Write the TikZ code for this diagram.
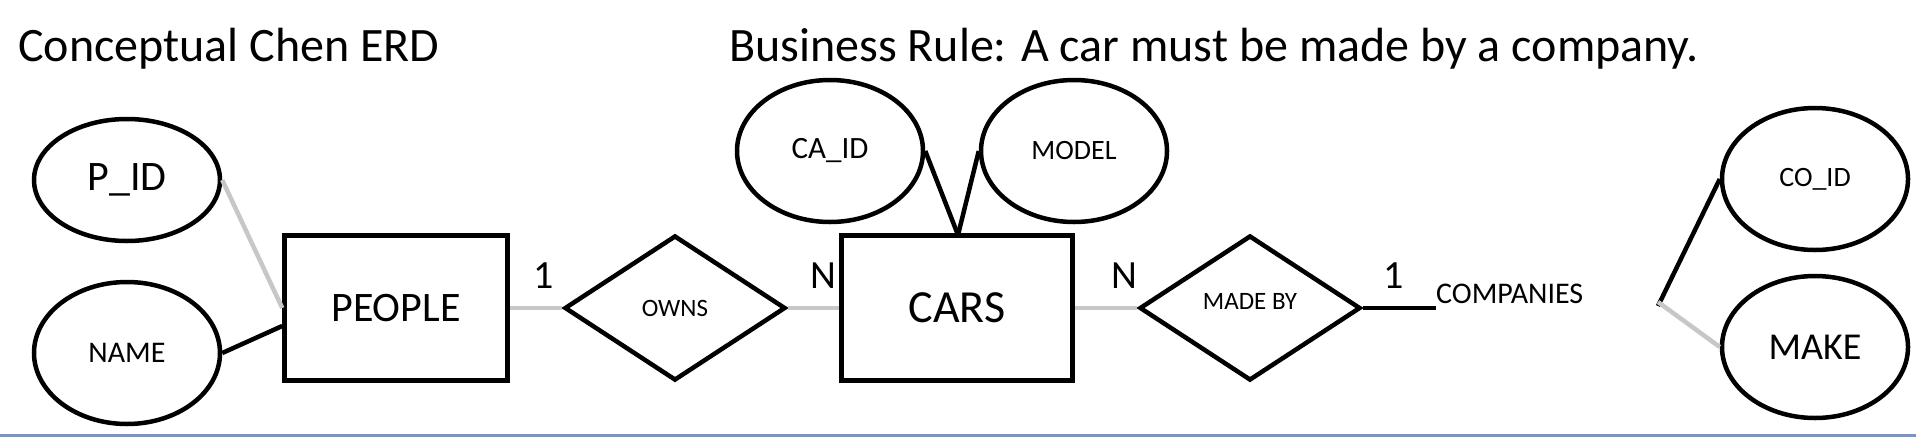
\documentclass[tikz,border=0pt]{standalone}
\usepackage{fontspec}
\setmainfont{Carlito}
\usetikzlibrary{shapes.geometric}
\begin{document}
\begin{tikzpicture}[x=1pt,y=-1pt,
  ln/.style={line width=4.5pt,black},
  gl/.style={line width=4.5pt,black!22},
  attr/.style={ellipse,draw,line width=4.5pt,minimum width=186pt,minimum height=142pt,inner sep=0pt},
  ent/.style={rectangle,draw,line width=4.5pt,minimum width=223pt,minimum height=145pt,inner sep=0pt},
  rel/.style={diamond,draw,line width=4.5pt,minimum width=221pt,minimum height=145pt,inner sep=0pt},
  card/.style={font=\fontsize{40}{42}\selectfont,inner sep=0pt}]
\useasboundingbox (0,0) rectangle (1916,437);
\draw[line width=3pt,color={rgb,255:red,120;green,150;blue,195}] (0,435) -- (1916,435);
\node[anchor=west,font=\fontsize{48}{52}\selectfont,inner sep=0pt] (t1) at (18,49) {Conceptual Chen ERD};
\node[anchor=west,font=\fontsize{48}{52}\selectfont,inner sep=0pt] (t2) at (729,49) {Business Rule: A car must be made by a company.};
\node[attr,minimum height=122pt,font=\fontsize{42}{44}\selectfont] (pid) at (127,180) {P\_ID};
\node[attr,font=\fontsize{30}{32}\selectfont] (name) at (127,353) {NAME};
\node[ent,font=\fontsize{42}{44}\selectfont] (people) at (396,308) {PEOPLE};
\node[rel,font=\fontsize{25}{27}\selectfont] (owns) at (675,308) {OWNS};
\node[ent,minimum width=231pt,font=\fontsize{46}{48}\selectfont] (cars) at (957,308) {CARS};
\node[attr,font=\fontsize{31}{33}\selectfont] (caid) at (830,151) {CA\_ID};
\node[attr,font=\fontsize{28}{30}\selectfont] (model) at (1074,151) {MODEL};
\node[rel,font=\fontsize{25}{27}\selectfont] (madeby) at (1250,308) {\raisebox{14pt}{MADE BY}};
\node[anchor=west,font=\fontsize{30}{32}\selectfont,inner sep=0pt] (comp) at (1436,294) {COMPANIES};
\node[attr,font=\fontsize{28}{30}\selectfont] (coid) at (1815,179) {CO\_ID};
\node[attr,font=\fontsize{38}{40}\selectfont] (make) at (1815,347) {MAKE};
\node[card] (c1) at (544,276) {1};
\node[card] (c2) at (823,276) {N};
\node[card] (c3) at (1124,276) {N};
\node[card] (c4) at (1394,276) {1};
\coordinate (ct) at (958,235);
\coordinate (cp) at (1658,306);
\coordinate (ce) at (1436,308);
\draw[gl] (pid.east) -- (people.west);
\draw[ln] (name.east) -- ([yshift=-18pt]people.west);
\draw[gl] (people.east) -- (owns.west);
\draw[gl] (owns.east) -- (cars.west);
\draw[gl] (cars.east) -- (madeby.west);
\draw[ln] (madeby.east) -- (ce);
\draw[ln] (caid.east) -- (ct);
\draw[ln] (model.west) -- (ct);
\draw[ln] (cp) -- (coid.west);
\draw[gl] ([yshift=4pt]cp) -- (make.west);
\end{tikzpicture}
\end{document}
